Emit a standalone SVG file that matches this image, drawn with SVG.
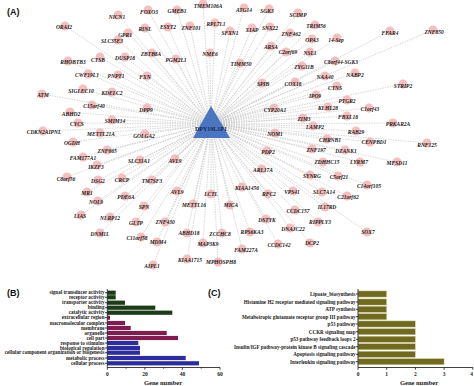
<svg xmlns="http://www.w3.org/2000/svg" width="474" height="386" viewBox="0 0 474 386">
<style>
.nd circle{fill:#f2a6a6;fill-opacity:.72}
.nd text{font-family:"Liberation Serif",serif;font-style:italic;font-weight:bold;font-size:5.5px;text-anchor:middle;fill:#1a1a1a}
#edges line{stroke:#bcbcbc;stroke-width:.6;stroke-dasharray:1.5 1}
.pl{font-family:"Liberation Sans",Arial,sans-serif;font-weight:bold;font-size:9px;fill:#111}
.bl{font-family:"Liberation Serif",serif;font-weight:bold;font-size:5.1px;text-anchor:end;fill:#1a1a1a}
.tk{font-family:"Liberation Serif",serif;font-weight:bold;font-size:5.5px;text-anchor:middle;fill:#1a1a1a}
.ax{font-family:"Liberation Serif",serif;font-weight:bold;font-size:6.5px;text-anchor:middle;fill:#1a1a1a}
.axl{stroke:#111;stroke-width:.8;fill:none}
.g1{fill:#1d3b18}.g2{fill:#7e1e50}.g3{fill:#2c2c9c}
.ol{fill:#6f6a1f;stroke:#dcd8a8;stroke-width:.5}
</style>
<text class="pl" x="7" y="15">(A)</text>
<g id="edges">
<line x1="211" y1="124" x2="118" y2="15"/><line x1="211" y1="124" x2="148" y2="10"/><line x1="211" y1="124" x2="65" y2="26"/><line x1="211" y1="124" x2="128" y2="33"/><line x1="211" y1="124" x2="118" y2="40"/><line x1="211" y1="124" x2="145" y2="28"/><line x1="211" y1="124" x2="68" y2="61"/><line x1="211" y1="124" x2="100" y2="57"/><line x1="211" y1="124" x2="125" y2="57"/><line x1="211" y1="124" x2="152" y2="53"/><line x1="211" y1="124" x2="88" y2="74"/><line x1="211" y1="124" x2="118" y2="75"/><line x1="211" y1="124" x2="147" y2="76"/><line x1="211" y1="124" x2="42" y2="94"/><line x1="211" y1="124" x2="83" y2="89"/><line x1="211" y1="124" x2="112" y2="92"/><line x1="211" y1="124" x2="177" y2="10"/><line x1="211" y1="124" x2="203" y2="4"/><line x1="211" y1="124" x2="244" y2="8"/><line x1="211" y1="124" x2="269" y2="9"/><line x1="211" y1="124" x2="298" y2="13"/><line x1="211" y1="124" x2="168" y2="27"/><line x1="211" y1="124" x2="190" y2="26"/><line x1="211" y1="124" x2="215" y2="23"/><line x1="211" y1="124" x2="230" y2="31"/><line x1="211" y1="124" x2="252" y2="28"/><line x1="211" y1="124" x2="270" y2="27"/><line x1="211" y1="124" x2="290" y2="33"/><line x1="211" y1="124" x2="315" y2="25"/><line x1="211" y1="124" x2="176" y2="59"/><line x1="211" y1="124" x2="210" y2="53"/><line x1="211" y1="124" x2="271" y2="46"/><line x1="211" y1="124" x2="286" y2="52"/><line x1="211" y1="124" x2="240" y2="63"/><line x1="211" y1="124" x2="302" y2="66"/><line x1="211" y1="124" x2="262" y2="83"/><line x1="211" y1="124" x2="295" y2="82"/><line x1="211" y1="124" x2="312" y2="39"/><line x1="211" y1="124" x2="310" y2="52"/><line x1="211" y1="124" x2="337" y2="38"/><line x1="211" y1="124" x2="335" y2="61"/><line x1="211" y1="124" x2="325" y2="76"/><line x1="211" y1="124" x2="355" y2="73"/><line x1="211" y1="124" x2="337" y2="86"/><line x1="211" y1="124" x2="390" y2="31"/><line x1="211" y1="124" x2="433" y2="30"/><line x1="211" y1="124" x2="403" y2="84"/><line x1="211" y1="124" x2="316" y2="95"/><line x1="211" y1="124" x2="92" y2="105"/><line x1="211" y1="124" x2="70" y2="112"/><line x1="211" y1="124" x2="147" y2="108"/><line x1="211" y1="124" x2="78" y2="123"/><line x1="211" y1="124" x2="112" y2="120"/><line x1="211" y1="124" x2="43" y2="131"/><line x1="211" y1="124" x2="100" y2="133"/><line x1="211" y1="124" x2="145" y2="134"/><line x1="211" y1="124" x2="73" y2="142"/><line x1="211" y1="124" x2="107" y2="150"/><line x1="211" y1="124" x2="83" y2="157"/><line x1="211" y1="124" x2="97" y2="165"/><line x1="211" y1="124" x2="140" y2="160"/><line x1="211" y1="124" x2="67" y2="177"/><line x1="211" y1="124" x2="98" y2="180"/><line x1="211" y1="124" x2="122" y2="178"/><line x1="211" y1="124" x2="152" y2="180"/><line x1="211" y1="124" x2="274" y2="108"/><line x1="211" y1="124" x2="303" y2="118"/><line x1="211" y1="124" x2="313" y2="126"/><line x1="211" y1="124" x2="275" y2="133"/><line x1="211" y1="124" x2="312" y2="149"/><line x1="211" y1="124" x2="267" y2="151"/><line x1="211" y1="124" x2="175" y2="159"/><line x1="211" y1="124" x2="262" y2="169"/><line x1="211" y1="124" x2="310" y2="175"/><line x1="211" y1="124" x2="347" y2="100"/><line x1="211" y1="124" x2="328" y2="107"/><line x1="211" y1="124" x2="369" y2="108"/><line x1="211" y1="124" x2="347" y2="116"/><line x1="211" y1="124" x2="393" y2="123"/><line x1="211" y1="124" x2="356" y2="131"/><line x1="211" y1="124" x2="327" y2="139"/><line x1="211" y1="124" x2="370" y2="142"/><line x1="211" y1="124" x2="427" y2="143"/><line x1="211" y1="124" x2="345" y2="150"/><line x1="211" y1="124" x2="323" y2="162"/><line x1="211" y1="124" x2="360" y2="162"/><line x1="211" y1="124" x2="397" y2="162"/><line x1="211" y1="124" x2="338" y2="176"/><line x1="211" y1="124" x2="367" y2="185"/><line x1="211" y1="124" x2="87" y2="192"/><line x1="211" y1="124" x2="98" y2="201"/><line x1="211" y1="124" x2="125" y2="196"/><line x1="211" y1="124" x2="144" y2="206"/><line x1="211" y1="124" x2="81" y2="215"/><line x1="211" y1="124" x2="110" y2="217"/><line x1="211" y1="124" x2="136" y2="222"/><line x1="211" y1="124" x2="100" y2="233"/><line x1="211" y1="124" x2="141" y2="237"/><line x1="211" y1="124" x2="157" y2="242"/><line x1="211" y1="124" x2="153" y2="265"/><line x1="211" y1="124" x2="165" y2="222"/><line x1="211" y1="124" x2="177" y2="191"/><line x1="211" y1="124" x2="242" y2="187"/><line x1="211" y1="124" x2="211" y2="194"/><line x1="211" y1="124" x2="268" y2="194"/><line x1="211" y1="124" x2="293" y2="191"/><line x1="211" y1="124" x2="193" y2="204"/><line x1="211" y1="124" x2="230" y2="205"/><line x1="211" y1="124" x2="295" y2="210"/><line x1="211" y1="124" x2="187" y2="233"/><line x1="211" y1="124" x2="222" y2="233"/><line x1="211" y1="124" x2="266" y2="219"/><line x1="211" y1="124" x2="250" y2="232"/><line x1="211" y1="124" x2="290" y2="228"/><line x1="211" y1="124" x2="203" y2="243"/><line x1="211" y1="124" x2="278" y2="244"/><line x1="211" y1="124" x2="310" y2="243"/><line x1="211" y1="124" x2="242" y2="249"/><line x1="211" y1="124" x2="187" y2="259"/><line x1="211" y1="124" x2="218" y2="262"/><line x1="211" y1="124" x2="322" y2="192"/><line x1="211" y1="124" x2="347" y2="196"/><line x1="211" y1="124" x2="325" y2="207"/><line x1="211" y1="124" x2="318" y2="222"/><line x1="211" y1="124" x2="367" y2="232"/>
</g>
<g id="n1" class="nd"><circle cx="118" cy="15" r="4.5"/><text x="117" y="19">NICN1</text></g>
<g id="n2" class="nd"><circle cx="148" cy="10" r="4.5"/><text x="149" y="14">FOXO3</text></g>
<g id="n3" class="nd"><circle cx="65" cy="26" r="4.5"/><text x="64" y="29">ORAI2</text></g>
<g id="n4" class="nd"><circle cx="128" cy="33" r="4.5"/><text x="125" y="37">GPR1</text></g>
<g id="n5" class="nd"><circle cx="118" cy="40" r="4.5"/><text x="112" y="43">SLC35E3</text></g>
<g id="n6" class="nd"><circle cx="145" cy="28" r="4.5"/><text x="145" y="31">RINL</text></g>
<g id="n7" class="nd"><circle cx="68" cy="61" r="4.5"/><text x="73" y="64">RHOBTB3</text></g>
<g id="n8" class="nd"><circle cx="100" cy="57" r="4.5"/><text x="98" y="62">CTSB</text></g>
<g id="n9" class="nd"><circle cx="125" cy="57" r="4.5"/><text x="125" y="60">DUSP18</text></g>
<g id="n10" class="nd"><circle cx="152" cy="53" r="4.5"/><text x="151" y="56">ZBTB8A</text></g>
<g id="n11" class="nd"><circle cx="88" cy="74" r="4.5"/><text x="87" y="77">CWF19L1</text></g>
<g id="n12" class="nd"><circle cx="118" cy="75" r="4.5"/><text x="116" y="78">PNPT1</text></g>
<g id="n13" class="nd"><circle cx="147" cy="76" r="4.5"/><text x="145" y="79">FXN</text></g>
<g id="n14" class="nd"><circle cx="42" cy="94" r="4.5"/><text x="43" y="97">ATM</text></g>
<g id="n15" class="nd"><circle cx="83" cy="89" r="4.5"/><text x="81" y="93">SIGLEC10</text></g>
<g id="n16" class="nd"><circle cx="112" cy="92" r="4.5"/><text x="112" y="95">KDELC2</text></g>
<g id="n17" class="nd"><circle cx="177" cy="10" r="4.5"/><text x="177" y="13">GMEB1</text></g>
<g id="n18" class="nd"><circle cx="203" cy="4" r="4.5"/><text x="208" y="8">TMEM106A</text></g>
<g id="n19" class="nd"><circle cx="244" cy="8" r="4.5"/><text x="244" y="12">ATG14</text></g>
<g id="n20" class="nd"><circle cx="269" cy="9" r="4.5"/><text x="267" y="13">SGK3</text></g>
<g id="n21" class="nd"><circle cx="298" cy="13" r="4.5"/><text x="298" y="17">SCIMP</text></g>
<g id="n22" class="nd"><circle cx="168" cy="27" r="4.5"/><text x="168" y="29">ESYT2</text></g>
<g id="n23" class="nd"><circle cx="190" cy="26" r="4.5"/><text x="191" y="30">ZNF101</text></g>
<g id="n24" class="nd"><circle cx="215" cy="23" r="4.5"/><text x="216" y="26">RPL7L1</text></g>
<g id="n25" class="nd"><circle cx="230" cy="31" r="4.5"/><text x="230" y="35">SFXN1</text></g>
<g id="n26" class="nd"><circle cx="252" cy="28" r="4.5"/><text x="252" y="32">XIAP</text></g>
<g id="n27" class="nd"><circle cx="270" cy="27" r="4.5"/><text x="270" y="30">SNX22</text></g>
<g id="n28" class="nd"><circle cx="290" cy="33" r="4.5"/><text x="291" y="36">ZNF462</text></g>
<g id="n29" class="nd"><circle cx="315" cy="25" r="4.5"/><text x="316" y="28">TRIM56</text></g>
<g id="n30" class="nd"><circle cx="176" cy="59" r="4.5"/><text x="176" y="62">PGM2L1</text></g>
<g id="n31" class="nd"><circle cx="210" cy="53" r="4.5"/><text x="210" y="56">NME6</text></g>
<g id="n32" class="nd"><circle cx="271" cy="46" r="4.5"/><text x="271" y="49">ARSA</text></g>
<g id="n33" class="nd"><circle cx="286" cy="52" r="4.5"/><text x="288" y="54">C2orf69</text></g>
<g id="n34" class="nd"><circle cx="240" cy="63" r="4.5"/><text x="241" y="66">TIMM50</text></g>
<g id="n35" class="nd"><circle cx="302" cy="66" r="4.5"/><text x="304" y="69">ZYG11B</text></g>
<g id="n36" class="nd"><circle cx="262" cy="83" r="4.5"/><text x="263" y="86">SPIB</text></g>
<g id="n37" class="nd"><circle cx="295" cy="82" r="4.5"/><text x="293" y="86">COX18</text></g>
<g id="n38" class="nd"><circle cx="312" cy="39" r="4.5"/><text x="312" y="42">OPA3</text></g>
<g id="n39" class="nd"><circle cx="310" cy="52" r="4.5"/><text x="310" y="55">NSL1</text></g>
<g id="n40" class="nd"><circle cx="337" cy="38" r="4.5"/><text x="336" y="42">14-Sep</text></g>
<g id="n41" class="nd"><circle cx="335" cy="61" r="4.5"/><text x="341" y="64">C8orf44-SGK3</text></g>
<g id="n42" class="nd"><circle cx="325" cy="76" r="4.5"/><text x="325" y="79">NAA40</text></g>
<g id="n43" class="nd"><circle cx="355" cy="73" r="4.5"/><text x="355" y="77">NABP2</text></g>
<g id="n44" class="nd"><circle cx="337" cy="86" r="4.5"/><text x="335" y="90">CTNS</text></g>
<g id="n45" class="nd"><circle cx="390" cy="31" r="4.5"/><text x="390" y="35">FFAR4</text></g>
<g id="n46" class="nd"><circle cx="433" cy="30" r="4.5"/><text x="434" y="34">ZNF850</text></g>
<g id="n47" class="nd"><circle cx="403" cy="84" r="4.5"/><text x="403" y="88">STRIP2</text></g>
<g id="n48" class="nd"><circle cx="316" cy="95" r="4.5"/><text x="315" y="98">IPO9</text></g>
<g id="n49" class="nd"><circle cx="92" cy="105" r="4.5"/><text x="94" y="108">C15orf40</text></g>
<g id="n50" class="nd"><circle cx="70" cy="112" r="4.5"/><text x="71" y="116">ABHD2</text></g>
<g id="n51" class="nd"><circle cx="147" cy="108" r="4.5"/><text x="146" y="112">DPP9</text></g>
<g id="n52" class="nd"><circle cx="78" cy="123" r="4.5"/><text x="77" y="126">CYCS</text></g>
<g id="n53" class="nd"><circle cx="112" cy="120" r="4.5"/><text x="115" y="123">SMIM14</text></g>
<g id="n54" class="nd"><circle cx="43" cy="131" r="4.5"/><text x="44" y="134">CDKN2AIPNL</text></g>
<g id="n55" class="nd"><circle cx="100" cy="133" r="4.5"/><text x="101" y="136">METTL21A</text></g>
<g id="n56" class="nd"><circle cx="145" cy="134" r="4.5"/><text x="144" y="138">GOLGA2</text></g>
<g id="n57" class="nd"><circle cx="73" cy="142" r="4.5"/><text x="72" y="145">OGDH</text></g>
<g id="n58" class="nd"><circle cx="107" cy="150" r="4.5"/><text x="107" y="153">ZNF665</text></g>
<g id="n59" class="nd"><circle cx="83" cy="157" r="4.5"/><text x="83" y="160">FAM177A1</text></g>
<g id="n60" class="nd"><circle cx="97" cy="165" r="4.5"/><text x="96" y="169">IKZF3</text></g>
<g id="n61" class="nd"><circle cx="140" cy="160" r="4.5"/><text x="139" y="163">SLC31A1</text></g>
<g id="n62" class="nd"><circle cx="67" cy="177" r="4.5"/><text x="66" y="181">C8orf56</text></g>
<g id="n63" class="nd"><circle cx="98" cy="180" r="4.5"/><text x="98" y="183">DSG2</text></g>
<g id="n64" class="nd"><circle cx="122" cy="178" r="4.5"/><text x="122" y="182">CRCP</text></g>
<g id="n65" class="nd"><circle cx="152" cy="180" r="4.5"/><text x="152" y="183">TM7SF3</text></g>
<g id="n66" class="nd"><circle cx="274" cy="108" r="4.5"/><text x="275" y="112">CYP20A1</text></g>
<g id="n67" class="nd"><circle cx="303" cy="118" r="4.5"/><text x="304" y="121">ZIM3</text></g>
<g id="n68" class="nd"><circle cx="313" cy="126" r="4.5"/><text x="315" y="129">LAMP2</text></g>
<g id="n69" class="nd"><circle cx="275" cy="133" r="4.5"/><text x="275" y="136">NOM1</text></g>
<g id="n70" class="nd"><circle cx="312" cy="149" r="4.5"/><text x="316" y="152">ZNF197</text></g>
<g id="n71" class="nd"><circle cx="267" cy="151" r="4.5"/><text x="268" y="154">PDP2</text></g>
<g id="n72" class="nd"><circle cx="175" cy="159" r="4.5"/><text x="175" y="163">AVL9</text></g>
<g id="n73" class="nd"><circle cx="262" cy="169" r="4.5"/><text x="263" y="172">ARL17A</text></g>
<g id="n74" class="nd"><circle cx="310" cy="175" r="4.5"/><text x="312" y="178">SYNRG</text></g>
<g id="n75" class="nd"><circle cx="347" cy="100" r="4.5"/><text x="347" y="103">PTGR2</text></g>
<g id="n76" class="nd"><circle cx="328" cy="107" r="4.5"/><text x="328" y="110">KLHL28</text></g>
<g id="n77" class="nd"><circle cx="369" cy="108" r="4.5"/><text x="370" y="111">C1orf43</text></g>
<g id="n78" class="nd"><circle cx="347" cy="116" r="4.5"/><text x="348" y="119">FBXL18</text></g>
<g id="n79" class="nd"><circle cx="393" cy="123" r="4.5"/><text x="398" y="126">PRKAR2A</text></g>
<g id="n80" class="nd"><circle cx="356" cy="131" r="4.5"/><text x="356" y="134">RAB29</text></g>
<g id="n81" class="nd"><circle cx="327" cy="139" r="4.5"/><text x="330" y="142">CHRNB1</text></g>
<g id="n82" class="nd"><circle cx="370" cy="142" r="4.5"/><text x="374" y="144">CENPBD1</text></g>
<g id="n83" class="nd"><circle cx="427" cy="143" r="4.5"/><text x="427" y="147">RNF125</text></g>
<g id="n84" class="nd"><circle cx="345" cy="150" r="4.5"/><text x="346" y="153">DZANK1</text></g>
<g id="n85" class="nd"><circle cx="323" cy="162" r="4.5"/><text x="327" y="164">ZDHHC15</text></g>
<g id="n86" class="nd"><circle cx="360" cy="162" r="4.5"/><text x="359" y="164">LYRM7</text></g>
<g id="n87" class="nd"><circle cx="397" cy="162" r="4.5"/><text x="397" y="165">MFSD11</text></g>
<g id="n88" class="nd"><circle cx="338" cy="176" r="4.5"/><text x="339" y="179">C5orf21</text></g>
<g id="n89" class="nd"><circle cx="367" cy="185" r="4.5"/><text x="369" y="188">C14orf105</text></g>
<g id="n90" class="nd"><circle cx="87" cy="192" r="4.5"/><text x="87" y="195">MR1</text></g>
<g id="n91" class="nd"><circle cx="98" cy="201" r="4.5"/><text x="96" y="204">NOL9</text></g>
<g id="n92" class="nd"><circle cx="125" cy="196" r="4.5"/><text x="126" y="199">PDE6A</text></g>
<g id="n93" class="nd"><circle cx="144" cy="206" r="4.5"/><text x="144" y="209">SPN</text></g>
<g id="n94" class="nd"><circle cx="81" cy="215" r="4.5"/><text x="80" y="218">LIAS</text></g>
<g id="n95" class="nd"><circle cx="110" cy="217" r="4.5"/><text x="110" y="220">NLRP12</text></g>
<g id="n96" class="nd"><circle cx="136" cy="222" r="4.5"/><text x="136" y="225">GLTP</text></g>
<g id="n97" class="nd"><circle cx="100" cy="233" r="4.5"/><text x="100" y="236">DNM1L</text></g>
<g id="n98" class="nd"><circle cx="141" cy="237" r="4.5"/><text x="137" y="240">C11orf58</text></g>
<g id="n99" class="nd"><circle cx="157" cy="242" r="4.5"/><text x="158" y="244">MDM4</text></g>
<g id="n100" class="nd"><circle cx="153" cy="265" r="4.5"/><text x="152" y="268">AIPL1</text></g>
<g id="n101" class="nd"><circle cx="165" cy="222" r="4.5"/><text x="165" y="224">ZNF430</text></g>
<g id="n102" class="nd"><circle cx="177" cy="191" r="4.5"/><text x="177" y="194">AVL9</text></g>
<g id="n103" class="nd"><circle cx="242" cy="187" r="4.5"/><text x="247" y="190">KIAA1456</text></g>
<g id="n104" class="nd"><circle cx="211" cy="194" r="4.5"/><text x="211" y="196">LCTL</text></g>
<g id="n105" class="nd"><circle cx="268" cy="194" r="4.5"/><text x="269" y="196">RFC2</text></g>
<g id="n106" class="nd"><circle cx="293" cy="191" r="4.5"/><text x="292" y="194">VPS41</text></g>
<g id="n107" class="nd"><circle cx="193" cy="204" r="4.5"/><text x="194" y="207">METTL16</text></g>
<g id="n108" class="nd"><circle cx="230" cy="205" r="4.5"/><text x="231" y="207">MICA</text></g>
<g id="n109" class="nd"><circle cx="295" cy="210" r="4.5"/><text x="298" y="213">CCDC157</text></g>
<g id="n110" class="nd"><circle cx="187" cy="233" r="4.5"/><text x="189" y="235">ABHD18</text></g>
<g id="n111" class="nd"><circle cx="222" cy="233" r="4.5"/><text x="220" y="236">ZCCHC8</text></g>
<g id="n112" class="nd"><circle cx="266" cy="219" r="4.5"/><text x="267" y="222">DSTYK</text></g>
<g id="n113" class="nd"><circle cx="250" cy="232" r="4.5"/><text x="252" y="234">RPS6KA3</text></g>
<g id="n114" class="nd"><circle cx="290" cy="228" r="4.5"/><text x="293" y="231">DNAJC22</text></g>
<g id="n115" class="nd"><circle cx="203" cy="243" r="4.5"/><text x="208" y="246">MAP3K9</text></g>
<g id="n116" class="nd"><circle cx="278" cy="244" r="4.5"/><text x="279" y="247">CCDC142</text></g>
<g id="n117" class="nd"><circle cx="310" cy="243" r="4.5"/><text x="312" y="245">DCP2</text></g>
<g id="n118" class="nd"><circle cx="242" cy="249" r="4.5"/><text x="246" y="252">FAM227A</text></g>
<g id="n119" class="nd"><circle cx="187" cy="259" r="4.5"/><text x="190" y="262">KIAA1715</text></g>
<g id="n120" class="nd"><circle cx="218" cy="262" r="4.5"/><text x="221" y="264">MPHOSPH8</text></g>
<g id="n121" class="nd"><circle cx="322" cy="192" r="4.5"/><text x="324" y="194">SLC7A14</text></g>
<g id="n122" class="nd"><circle cx="347" cy="196" r="4.5"/><text x="348" y="199">C21orf62</text></g>
<g id="n123" class="nd"><circle cx="325" cy="207" r="4.5"/><text x="327" y="209">IL17RD</text></g>
<g id="n124" class="nd"><circle cx="318" cy="222" r="4.5"/><text x="320" y="224">RIPPLY3</text></g>
<g id="n125" class="nd"><circle cx="367" cy="232" r="4.5"/><text x="368" y="234">SOX7</text></g>
<g id="hub"><polygon points="211,106 193,138 230,138" fill="#4a76c1"/><text x="211" y="131" font-family="Liberation Serif,serif" font-weight="bold" font-size="6px" text-anchor="middle" fill="#1a2550">DPY19L1P1</text></g>
<g id="panelB">
<text class="pl" x="7" y="296">(B)</text>
<rect class="g1" x="107.3" y="290.6" width="8.4" height="4.2"/>
<rect class="g1" x="107.3" y="295.2" width="8.4" height="4.2"/>
<rect class="g1" x="107.3" y="300.6" width="17.7" height="4.2"/>
<rect class="g1" x="107.3" y="305.6" width="48" height="4.2"/>
<rect class="g1" x="107.3" y="310.6" width="65" height="4.2"/>
<rect class="g2" x="107.3" y="315.6" width="2.7" height="4.2"/>
<rect class="g2" x="107.3" y="320.9" width="17.7" height="4.2"/>
<rect class="g2" x="107.3" y="325.9" width="23.4" height="4.2"/>
<rect class="g2" x="107.3" y="330.9" width="59.4" height="4.2"/>
<rect class="g2" x="107.3" y="335.9" width="70.7" height="4.2"/>
<rect class="g3" x="107.3" y="340.9" width="31" height="4.2"/>
<rect class="g3" x="107.3" y="345.9" width="32.7" height="4.2"/>
<rect class="g3" x="107.3" y="350.6" width="32.7" height="4.2"/>
<rect class="g3" x="107.3" y="355.9" width="78.4" height="4.2"/>
<rect class="g3" x="107.3" y="361.2" width="91.7" height="4.2"/>
<text class="bl" x="104.5" y="294.4">signal transducer activity</text>
<text class="bl" x="104.5" y="299">receptor activity</text>
<text class="bl" x="104.5" y="304.4">transporter activity</text>
<text class="bl" x="104.5" y="309.4">binding</text>
<text class="bl" x="104.5" y="314.4">catalytic activity</text>
<text class="bl" x="104.5" y="319.4">extracellular region</text>
<text class="bl" x="104.5" y="324.7">macromolecular complex</text>
<text class="bl" x="104.5" y="329.7">membrane</text>
<text class="bl" x="104.5" y="334.7">organelle</text>
<text class="bl" x="104.5" y="339.7">cell part</text>
<text class="bl" x="104.5" y="344.7">response to stimulus</text>
<text class="bl" x="104.5" y="349.7">biological regulation</text>
<text class="bl" x="104.5" y="354.4">cellular component organization or biogenesis</text>
<text class="bl" x="104.5" y="359.7">metabolic process</text>
<text class="bl" x="104.5" y="365">cellular process</text>
<path class="axl" d="M107.3,289 V367.5 H220 M105,292.7h2.3M105,297.3h2.3M105,302.7h2.3M105,307.7h2.3M105,312.7h2.3M105,317.7h2.3M105,323h2.3M105,328h2.3M105,333h2.3M105,338h2.3M105,343h2.3M105,348h2.3M105,352.7h2.3M105,358h2.3M105,363.3h2.3 M107.3,367.5v2.2M144.9,367.5v2.2M182.4,367.5v2.2M220,367.5v2.2M126.1,367.5v1.2M163.6,367.5v1.2M201.2,367.5v1.2"/>
<text class="tk" x="107.3" y="375.5">0</text>
<text class="tk" x="144.9" y="375.5">20</text>
<text class="tk" x="182.4" y="375.5">40</text>
<text class="tk" x="220" y="375.5">60</text>
<text class="ax" x="163" y="384.5">Gene number</text>
</g>
<g id="panelC">
<text class="pl" x="208" y="296">(C)</text>
<rect class="ol" x="358" y="290.9" width="28.7" height="6.2"/>
<rect class="ol" x="358" y="298.9" width="28.7" height="6.2"/>
<rect class="ol" x="358" y="306.2" width="28.7" height="6.2"/>
<rect class="ol" x="358" y="313.6" width="28.7" height="6.2"/>
<rect class="ol" x="358" y="320.9" width="57.4" height="6.2"/>
<rect class="ol" x="358" y="328.6" width="57.4" height="6.2"/>
<rect class="ol" x="358" y="336.2" width="57.4" height="6.2"/>
<rect class="ol" x="358" y="343.6" width="57.4" height="6.2"/>
<rect class="ol" x="358" y="351.2" width="57.4" height="6.2"/>
<rect class="ol" x="358" y="358.6" width="86.1" height="6.2"/>
<text class="bl" x="355.5" y="295.8">Lipoate_biosynthesis</text>
<text class="bl" x="355.5" y="303.8">Histamine H2 receptor mediated signaling pathway</text>
<text class="bl" x="355.5" y="311.1">ATP synthesis</text>
<text class="bl" x="355.5" y="318.5">Metabotropic glutamate receptor group III pathway</text>
<text class="bl" x="355.5" y="325.8">p53 pathway</text>
<text class="bl" x="355.5" y="333.5">CCKR signaling map</text>
<text class="bl" x="355.5" y="341.1">p53 pathway feedback loops 2</text>
<text class="bl" x="355.5" y="348.5">Insulin/IGF pathway-protein kinase B signaling cascade</text>
<text class="bl" x="355.5" y="356.1">Apoptosis signaling pathway</text>
<text class="bl" x="355.5" y="363.5">Interleukin signaling pathway</text>
<path class="axl" d="M358,289 V367.5 H472.8 M356,294h2M356,302h2M356,309.3h2M356,316.7h2M356,324h2M356,331.7h2M356,339.3h2M356,346.7h2M356,354.3h2M356,361.7h2 M358,367.5v2.2M386.7,367.5v2.2M415.4,367.5v2.2M444.1,367.5v2.2M472.8,367.5v2.2"/>
<text class="tk" x="358" y="375.5">0</text>
<text class="tk" x="386.7" y="375.5">1</text>
<text class="tk" x="415.4" y="375.5">2</text>
<text class="tk" x="444.1" y="375.5">3</text>
<text class="tk" x="471.5" y="375.5">4</text>
<text class="ax" x="419" y="384.5">Gene number</text>
</g>
</svg>
